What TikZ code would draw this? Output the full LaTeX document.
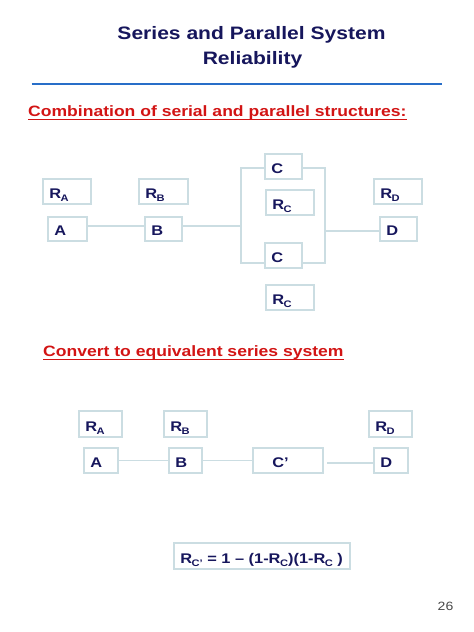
\documentclass[tikz,border=0pt]{standalone}
\usepackage{fontspec}
\setmainfont{Liberation Sans}[FakeStretch=1.17]
\definecolor{navy}{RGB}{22,22,92}
\definecolor{redt}{RGB}{210,20,20}
\definecolor{boxc}{RGB}{203,221,226}
\definecolor{bluel}{RGB}{40,110,200}
\definecolor{pgray}{RGB}{70,70,70}
\newcommand\sbx[1]{\kern-0.5pt\raisebox{-3pt}{\fontsize{9.5}{9.5}\selectfont #1}}
\newcommand\redul[1]{\leavevmode\setbox0=\hbox{#1}\rlap{\raisebox{-3.6pt}{\color{redt}\rule{\wd0}{1.8pt}}}\box0}
\begin{document}
\begin{tikzpicture}[x=1pt,y=-1pt,
  cell/.style={draw=boxc, line width=1.6pt, anchor=north west, inner xsep=6.5pt, inner ysep=0pt,
    align=left, text height=19.5pt, text depth=5.5pt, text=navy, font=\fontsize{14}{16}\selectfont\bfseries},
  wire/.style={draw=boxc, line width=1.5pt}]
\useasboundingbox (0,0) rectangle (474,632);
% title
\node[anchor=base, text=navy, font=\fontsize{18}{22}\selectfont\bfseries, inner sep=0] (t1) at (251.5,39.3) {Series and Parallel System};
\node[anchor=base, text=navy, font=\fontsize{18}{22}\selectfont\bfseries, inner sep=0] (t2) at (252.5,64) {Reliability};
\coordinate (bl1) at (31.7,84.3);
\coordinate (bl2) at (442.3,84.3);
\draw[bluel, line width=2.2pt] (bl1) -- (bl2);
\node[anchor=base west, text=redt, font=\fontsize{15}{18}\selectfont\bfseries, inner sep=0] (h1) at (28,116.7) {\redul{Combination of serial and parallel structures:}};
% top diagram
\node[cell, text width=35pt] (RA) at (42,178) {R\sbx{A}};
\node[cell, text width=36pt] (RB) at (138,178) {R\sbx{B}};
\node[cell, text width=26pt, text height=18.5pt] (A) at (47,216) {A};
\node[cell, text width=24pt, text height=18.5pt] (B) at (144,216) {B};
\node[cell, text width=24pt] (C1) at (264,153) {C};
\node[cell, text width=35pt] (RC1) at (265,189) {R\sbx{C}};
\node[cell, text width=24pt] (C2) at (264,242) {C};
\node[cell, text width=35pt] (RC2) at (265,284) {R\sbx{C}};
\node[cell, text width=35pt] (RD) at (373,178) {R\sbx{D}};
\node[cell, text width=24pt, text height=18.5pt] (D) at (379,216) {D};
\coordinate (ptl) at (241,168);
\coordinate (pbl) at (241,263);
\coordinate (ptr) at (325,168);
\coordinate (pbr) at (325,263);
\coordinate (pml) at (241,226);
\coordinate (pmr) at (325,231);
\draw[wire] (A.east |- pml) -- (pml -| B.west);
\draw[wire] (pml -| B.east) -- (pml);
\draw[wire] (ptl -| C1.west) -- (ptl) -- (pbl) -- (pbl -| C2.west);
\draw[wire] (ptr -| C1.east) -- (ptr) -- (pbr) -- (pbr -| C2.east);
\draw[wire] (pmr) -- (pmr -| D.west);
% second part
\node[anchor=base west, text=redt, font=\fontsize{15}{18}\selectfont\bfseries, inner sep=0] (h2) at (43,356.7) {\redul{Convert to equivalent series system}};
\node[cell, text width=30pt, text height=20.5pt] (RA2) at (78,410) {R\sbx{A}};
\node[cell, text width=30pt, text height=20.5pt] (RB2) at (163,410) {R\sbx{B}};
\node[cell, text width=30pt, text height=20.5pt] (RD2) at (368,410) {R\sbx{D}};
\node[cell, text width=21pt] (A2) at (83,447) {A};
\node[cell, text width=20pt] (B2) at (168,447) {B};
\node[cell, text width=31pt, inner xsep=19.5pt] (C3) at (252,447) {C’};
\node[cell, text width=21pt] (D2) at (373,447) {D};
\coordinate (q) at (327,463);
\draw[wire] (A2) -- (B2);
\draw[wire] (B2) -- (C3);
\draw[wire] (q) -- (q -| D2.west);
% formula
\node[cell, text height=20.5pt] (F) at (173,542) {\makebox[163pt][l]{R\sbx{C’} = 1 – (1-R\sbx{C})(1-R\sbx{C} )}};
\node[anchor=base west, text=pgray, font=\fontsize{12}{14}\selectfont, inner sep=0] (pg) at (437.5,610) {26};
\end{tikzpicture}
\end{document}
